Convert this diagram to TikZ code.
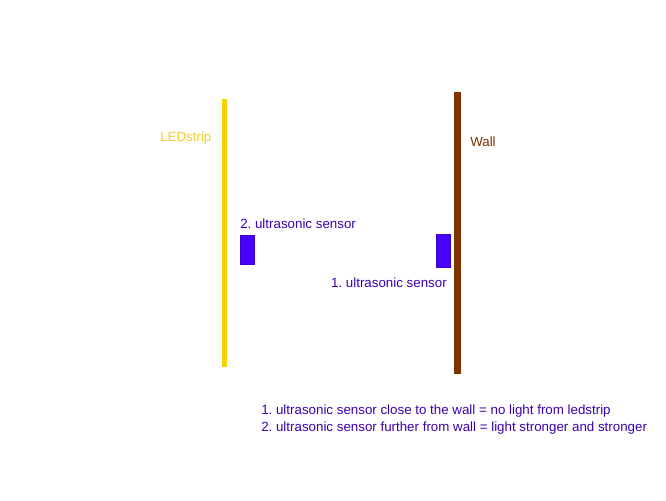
\documentclass[tikz,border=0pt]{standalone}
\usepackage{fontspec}
\setmainfont{Liberation Sans}
\definecolor{ledyellow}{RGB}{245,210,0}
\definecolor{ledtext}{RGB}{240,205,40}
\definecolor{wallbrown}{RGB}{125,50,0}
\definecolor{sensorblue}{RGB}{72,0,255}
\definecolor{sensortext}{RGB}{60,0,170}
\frenchspacing
\begin{document}
\begin{tikzpicture}[x=0.75pt, y=-0.75pt, font=\fontsize{10}{12}\selectfont]
	\tikzset{sensor/.style={fill=sensorblue, draw=sensorblue!80!black, line width=0.4pt},
		sensor label/.style={sensortext, inner sep=0pt}}
	\useasboundingbox (0,0) rectangle (666,500);
	\path (224.5,99) coordinate (L1)
	(224.5,367) coordinate (L2)
	(457.5,92) coordinate (W1)
	(457.5,374) coordinate (W2)
	;
	% led strip and wall
	\draw[ledyellow, line width=4.5pt*0.75] (L1)--(L2);
	\draw[wallbrown, line width=6.5pt*0.75] (W1)--(W2);
	\node[ledtext, anchor=west, inner sep=0pt] (ledlabel) at (160,138) {LEDstrip};
	\node[wallbrown, anchor=west, inner sep=0pt] (walllabel) at (470,142) {Wall};
	% sensors
	\draw[sensor] (240,235) rectangle (254,264);
	\draw[sensor] (436,234) rectangle (450,267);
	\node[sensor label, anchor=west] (s2) at (240,224) {2. ultrasonic sensor};
	\node[sensor label, anchor=east] (s1) at (447,283) {1. ultrasonic sensor};
	% notes
	\node[sensor label, anchor=west] (n1) at (261,411) {1. ultrasonic sensor close to the wall = no light from ledstrip};
	\node[sensor label, anchor=west] (n2) at (261,428) {2. ultrasonic sensor further from wall = light stronger and stronger};
\end{tikzpicture}
\end{document}
